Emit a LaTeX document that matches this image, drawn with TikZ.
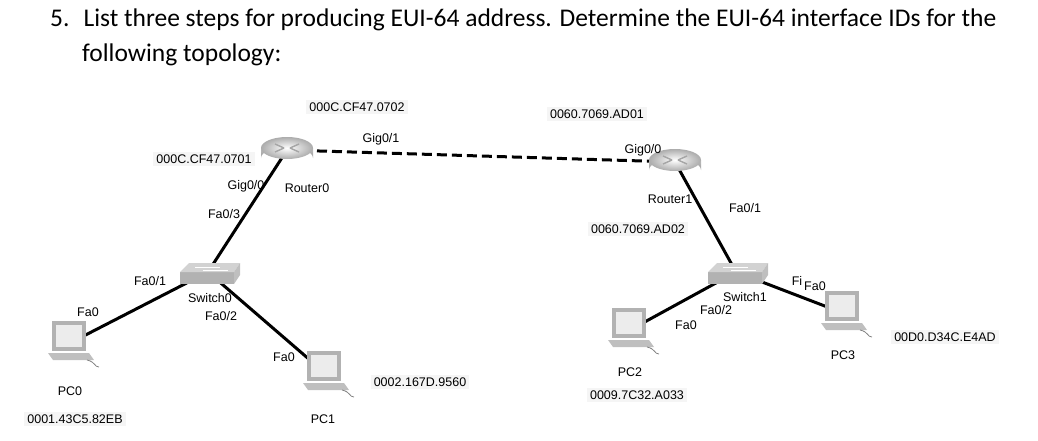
\documentclass[tikz,border=0pt]{standalone}
\usepackage{fontspec}
\setmainfont{Liberation Sans}
\newfontfamily\titlefont{Carlito}
\begin{document}
\begin{tikzpicture}[x=1pt,y=-1pt,
  lbl/.style={font=\fontsize{12.5}{14}\selectfont, inner sep=1pt},
  mac/.style={lbl, fill=gray!8, inner sep=3pt},
  link/.style={line width=3pt},
  router/.pic={
    \shade[top color=gray!45,bottom color=gray!80] (-26,-2) -- (-26,8) arc[start angle=180,end angle=360,x radius=26,y radius=11] -- (26,-2) -- cycle;
    \shade[inner color=white,outer color=gray!65] (0,-2) ellipse[x radius=26,y radius=11];
    \draw[gray!70,line width=1.4pt] (-12,-6)--(-3,-2) (12,2)--(3,-2) (-12,2)--(-3,-2) (12,-6)--(3,-2);},
  switch/.pic={
    \fill[gray!60] (-28,0) -- (26,0) -- (26,12) -- (-28,12) -- cycle;
    \fill[gray!35] (-28,0) -- (-19,-9) -- (32,-9) -- (26,0) -- cycle;
    \fill[gray!50] (26,0) -- (32,-9) -- (32,3) -- (26,12) -- cycle;
    \draw[white,line width=0.7pt] (-13,-5)--(12,-5) (-5,-2)--(20,-2);},
  pc/.pic={
    \fill[gray!60] (-18,-22) rectangle (16,8);
    \fill[gray!15] (-14,-18) rectangle (12,4);
    \fill[gray!50] (-22,10) -- (19,10) -- (24,17) -- (-17,17) -- cycle;
    \draw[gray,line width=0.8pt] (17,17) .. controls (26,19) and (24,24) .. (29,24);}
]
\useasboundingbox (0,0) rectangle (1038,441);
\node[anchor=west, font=\titlefont\fontsize{25.5}{30}\selectfont, inner sep=0pt] (title) at (50,20)
  {5.\hspace{14pt}List three steps for producing EUI-64 address. Determine the EUI-64 interface IDs for the};
\node[anchor=west, font=\titlefont\fontsize{25.5}{30}\selectfont, inner sep=0pt] (title2) at (82,55) {following topology:};

\coordinate (R0) at (287,150);
\coordinate (R1) at (675,162);
\coordinate (S0) at (208,272);
\coordinate (S1) at (736,272);
\coordinate (P0) at (70,343);
\coordinate (P1) at (325,373);
\coordinate (P2) at (630,330);
\coordinate (P3) at (843,313);

\draw[link] (R0) -- (S0);
\draw[link,dash pattern=on 10pt off 5pt] (R0) -- (R1);
\draw[link] (R1) -- (S1);
\draw[link] (S0) -- (P0);
\draw[link] (S0) -- (P1);
\draw[link] (S1) -- (P2);
\draw[link] (S1) -- (P3);

\pic at (R0) {router};
\pic at (R1) {router};
\pic at (S0) {switch};
\pic at (S1) {switch};
\pic at (P0) {pc};
\pic at (P1) {pc};
\pic at (P2) {pc};
\pic at (P3) {pc};

\node[mac] (m1) at (357,107) {000C.CF47.0702};
\node[mac] (m2) at (597,114) {0060.7069.AD01};
\node[mac] (m3) at (204,159) {000C.CF47.0701};
\node[mac] (m4) at (638,229) {0060.7069.AD02};
\node[mac] (m5) at (420,382) {0002.167D.9560};
\node[mac] (m6) at (75,419) {0001.43C5.82EB};
\node[mac] (m7) at (637,395) {0009.7C32.A033};
\node[mac] (m8) at (945,337) {00D0.D34C.E4AD};

\node[lbl] (l1) at (381,139) {Gig0/1};
\node[lbl] (l2) at (643,150) {Gig0/0};
\node[lbl] (l3) at (246,186) {Gig0/0};
\node[lbl] (l4) at (307,188) {Router0};
\node[lbl] (l5) at (224,214) {Fa0/3};
\node[lbl] (l6) at (670,199) {Router1};
\node[lbl] (l7) at (745,208) {Fa0/1};
\node[lbl] (l8) at (150,281) {Fa0/1};
\node[lbl] (l9) at (88,312) {Fa0};
\node[lbl] (l10) at (210,298) {Switch0};
\node[lbl] (l11) at (221,316) {Fa0/2};
\node[lbl] (l12) at (284,357) {Fa0};
\node[lbl] (l13) at (70,391) {PC0};
\node[lbl] (l14) at (323,419) {PC1};
\node[lbl] (l15) at (797,281) {Fi};
\node[lbl] (l16) at (815,286) {Fa0};
\node[lbl] (l17) at (745,297) {Switch1};
\node[lbl] (l18) at (716,310) {Fa0/2};
\node[lbl] (l19) at (686,325) {Fa0};
\node[lbl] (l20) at (630,372) {PC2};
\node[lbl] (l21) at (843,355) {PC3};
\end{tikzpicture}
\end{document}
